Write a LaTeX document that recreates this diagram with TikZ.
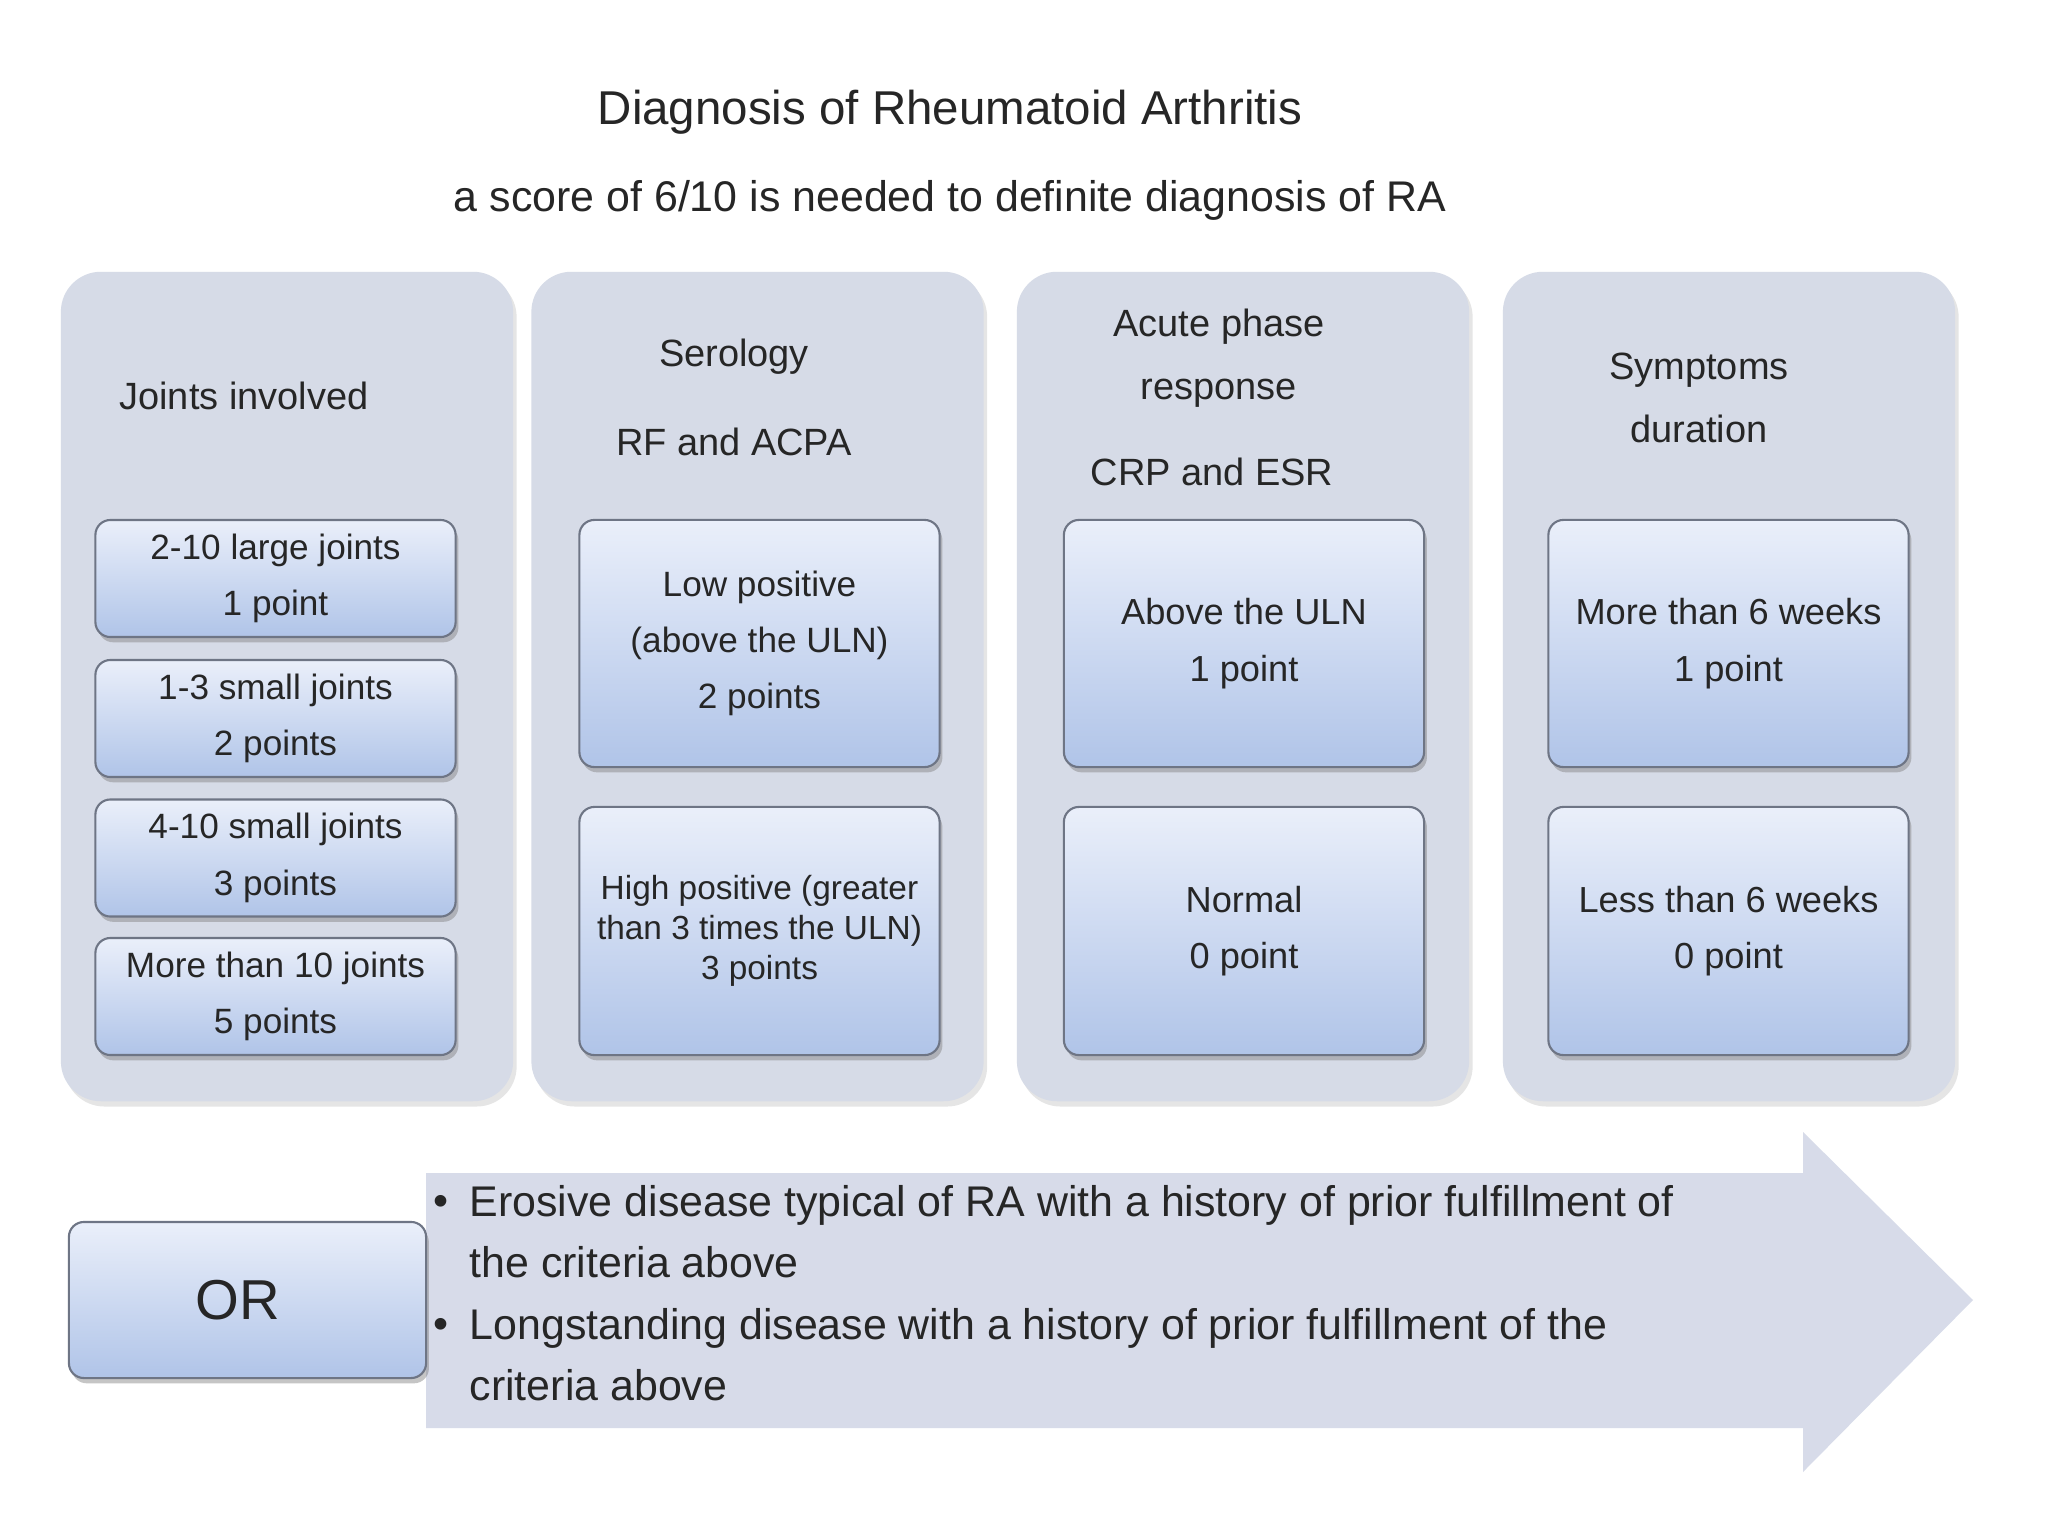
\documentclass[tikz,border=0pt]{standalone}
\usepackage{fontspec}
\setmainfont{Liberation Sans}
\usetikzlibrary{shadows}

\definecolor{panelgray}{HTML}{D6DBE7}
\definecolor{arrowgray}{HTML}{D7DBE9}
\definecolor{boxtop}{HTML}{EAEFFA}
\definecolor{boxbot}{HTML}{B0C4E8}
\definecolor{boxline}{HTML}{6E7585}
\definecolor{textgray}{HTML}{262626}

\tikzset{
  panel/.style={fill=panelgray, rounded corners=0.4cm, minimum width=4.52cm, minimum height=8.29cm,
    drop shadow={shadow xshift=1pt, shadow yshift=-1.5pt, opacity=0.2}},
  scorebox/.style={draw=boxline, line width=0.6pt, top color=boxtop, bottom color=boxbot,
    rounded corners=0.15cm, minimum width=3.6cm, align=center, text=textgray,
    drop shadow={shadow xshift=0.8pt, shadow yshift=-1.5pt, opacity=0.45}},
  head/.style={font=\fontsize{10.8}{18}\selectfont, align=center, text=textgray},
  crit/.style={font=\fontsize{12.2}{17.3}\selectfont, align=left, text=textgray, inner sep=0pt},
}

\begin{document}
\begin{tikzpicture}[x=0.01cm, y=-0.01cm]
    \fill[white] (0,0) rectangle (2048,1536);
    \useasboundingbox (0,0) rectangle (2048,1536);

    \node[text=textgray, font=\fontsize{13.5}{16}\selectfont] (title) at (950,112) {Diagnosis of Rheumatoid Arthritis};
    \node[text=textgray, font=\fontsize{12.2}{16}\selectfont] (sub) at (950,200) {a score of 6/10 is needed to definite diagnosis of RA};

    \foreach \i/\x in {1/287, 2/757.5, 3/1243, 4/1729}
    \node[panel] (p\i) at (\x,686.5) {};

    % joints involved
    \node[head] (jhead) at (244,396) {Joints involved};
    \foreach \i/\yy/\a/\b in {1/578.5/2-10 large joints/1 point, 2/718.5/1-3 small joints/2 points,
        3/858/4-10 small joints/3 points, 4/996.5/More than 10 joints/5 points}
    \node[scorebox, minimum height=1.17cm, font=\fontsize{10}{16}\selectfont] (j\i) at (275.5,\yy) {\a\\\b};

    % serology
    \node[head] (shead) at (734,357) {Serology};
    \node[head] (slab) at (734,442) {RF and ACPA};
    \node[scorebox, minimum height=2.47cm, font=\fontsize{10}{16}\selectfont] (s1) at (759.5,643.5) {Low positive\\(above the ULN)\\2 points};
    \node[scorebox, minimum height=2.48cm, font=\fontsize{9.5}{11.4}\selectfont] (s2) at (759.5,931) {High positive (greater\\than 3 times the ULN)\\3 points};

    % acute phase
    \node[head] (chead) at (1219,358) {Acute phase\\response};
    \node[head] (clab) at (1212,472) {CRP and ESR};
    \node[scorebox, minimum height=2.47cm, font=\fontsize{10.3}{16}\selectfont] (c1) at (1244,643.5) {Above the ULN\\1 point};
    \node[scorebox, minimum height=2.48cm, font=\fontsize{10.3}{16}\selectfont] (c2) at (1244,931) {Normal\\0 point};

    % duration
    \node[head] (dhead) at (1699,398) {Symptoms\\duration};
    \node[scorebox, minimum height=2.47cm, font=\fontsize{10.3}{16}\selectfont] (d1) at (1728.5,643.5) {More than 6 weeks\\1 point};
    \node[scorebox, minimum height=2.48cm, font=\fontsize{10.3}{16}\selectfont] (d2) at (1728.5,931) {Less than 6 weeks\\0 point};

    % bottom arrow
    \fill[arrowgray] (426,1173) -- (1803,1173) -- (1803,1132) -- (1973,1300) -- (1803,1472) -- (1803,1428) -- (426,1428) -- cycle;
    \node[scorebox, minimum width=3.57cm, minimum height=1.56cm, font=\fontsize{16}{18}\selectfont] (or) at (247.5,1300) {OR\hspace*{0.2cm}};
    \node[crit, anchor=base west] (crit1) at (469,1277) {Erosive disease typical of RA with a history of prior fulfillment of\\the criteria above};
    \node[crit, anchor=base west] (crit2) at (469,1400) {Longstanding disease with a history of prior fulfillment of the\\criteria above};
    \node[crit, anchor=base] (b1) at (441,1215) {\textbullet};
    \node[crit, anchor=base] (b2) at (441,1338) {\textbullet};

\end{tikzpicture}
\end{document}
